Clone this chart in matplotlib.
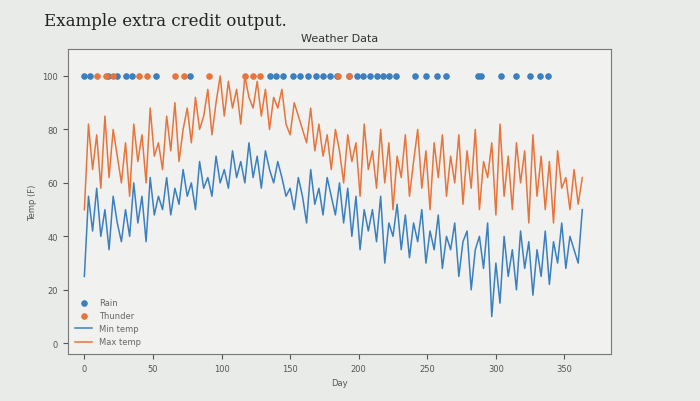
import matplotlib
matplotlib.use("Agg")
import matplotlib.pyplot as plt
import numpy as np

days = list(range(0, 366, 3))
max_temp = [50,82,65,78,58,85,62,80,70,60,
            75,55,82,68,78,60,88,70,75,65,
            85,72,90,68,80,88,75,92,80,85,
            95,78,90,100,85,98,88,95,82,100,
            92,88,98,85,95,80,92,88,95,82,
            78,90,85,80,75,88,72,82,70,78,
            65,80,72,60,78,68,75,55,82,65,
            72,58,80,60,75,50,70,62,78,55,
            68,80,58,72,50,75,62,78,55,70,
            60,78,52,72,58,80,50,68,62,75,
            48,82,55,70,50,75,60,72,45,78,
            55,70,50,68,45,72,58,62,50,65,
            52,62]
min_temp = [25,55,42,58,40,50,35,55,45,38,
            50,40,60,45,55,38,62,48,55,50,
            62,48,58,52,65,55,60,50,68,58,
            62,55,70,60,65,58,72,62,68,60,
            75,62,70,58,72,65,60,68,62,55,
            58,50,62,55,45,65,52,58,48,62,
            55,48,60,45,58,40,55,35,50,42,
            50,38,55,30,45,40,52,35,48,32,
            45,38,50,30,42,35,48,28,40,35,
            45,25,38,42,20,35,40,28,45,10,
            30,15,40,25,35,20,42,28,38,18,
            35,25,42,22,38,30,45,28,40,35,
            30,50]
rain_days = [0,4,17,24,30,35,52,77,135,140,145,152,157,163,169,174,179,184,193,199,
             203,208,213,218,222,227,241,249,257,264,287,289,304,315,325,332,338]
thunder_days = [9,16,21,40,46,66,73,91,117,123,128,185,193]
event_level = 100

blue = '#3a7fc0'
orange = '#e8743b'

fig = plt.figure(figsize=(7, 4.02), dpi=100, facecolor='#e9ebe8')
ax = fig.add_axes([0.097, 0.117, 0.776, 0.758], facecolor='#f1f2ef')
ax.scatter(rain_days, [event_level]*len(rain_days), color=blue, s=14, label='Rain', zorder=3)
ax.scatter(thunder_days, [event_level]*len(thunder_days), color=orange, s=14, label='Thunder', zorder=3)
ax.plot(days, min_temp, color=blue, lw=1.1, label='Min temp')
ax.plot(days, max_temp, color=orange, lw=1.1, label='Max temp')
ax.set_xlim(-12, 384)
ax.set_ylim(-4, 110)
ax.set_xticks([0,50,100,150,200,250,300,350])
ax.set_yticks([0,20,40,60,80,100])
ax.tick_params(labelsize=6, colors='#555555')
for s in ax.spines.values():
    s.set_color('#777777')
ax.set_title('Weather Data', fontsize=8, color='#333333')
ax.set_xlabel('Day', fontsize=6, color='#555555')
ax.set_ylabel('Temp (F)', fontsize=6, color='#555555')
ax.legend(loc='lower left', fontsize=6, frameon=False, labelcolor='#666666')
fig.text(0.063, 0.935, 'Example extra credit output.', fontsize=12, family='DejaVu Serif',
         color='#222222')
fig.savefig('out.png', dpi=100, facecolor=fig.get_facecolor())
